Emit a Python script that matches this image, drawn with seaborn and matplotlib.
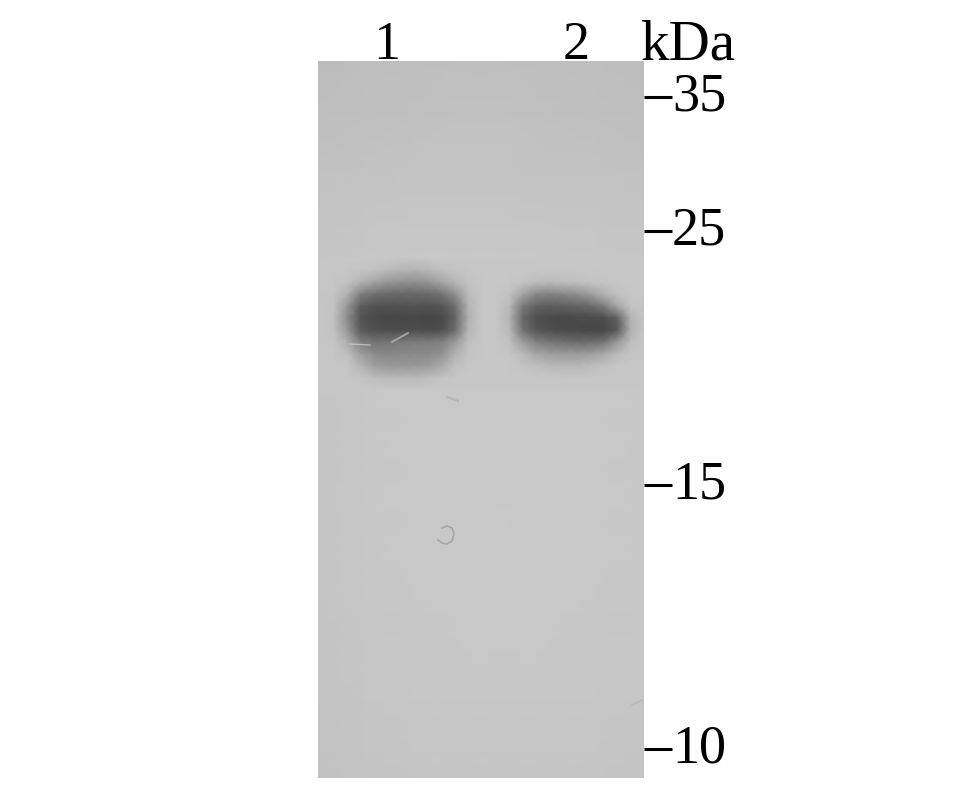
import numpy as np
import matplotlib
matplotlib.use("Agg")
import matplotlib.pyplot as plt
import seaborn as sns

# image size and blot box in pixels
W, H = 976, 791
left, right, top, bottom = 318, 644, 61, 778

lanes = ["1", "2"]
lane_px = [387, 576]
markers = ["35", "25", "15", "10"]
marker_px = [97, 231, 485, 749]

# coarse membrane background, grey levels
background = [
    [188, 190, 190, 191, 191, 190, 190, 189],
    [190, 191, 192, 193, 193, 192, 191, 190],
    [193, 194, 195, 195, 195, 194, 194, 193],
    [196, 197, 198, 198, 198, 197, 197, 196],
    [197, 199, 200, 200, 200, 200, 199, 198],
    [197, 199, 200, 200, 200, 200, 200, 198],
    [198, 199, 200, 200, 200, 200, 200, 199],
    [197, 199, 200, 200, 200, 200, 200, 199],
    [197, 199, 200, 200, 200, 200, 200, 199],
    [197, 199, 200, 200, 201, 200, 200, 199],
    [197, 199, 200, 200, 200, 200, 200, 199],
    [196, 198, 199, 200, 200, 200, 199, 198],
    [196, 198, 199, 199, 199, 199, 199, 198],
    [195, 197, 198, 198, 198, 198, 198, 197],
    [194, 196, 197, 197, 197, 197, 197, 196],
]

# fine grid round the two bands
band_box = (320, 644, 258, 390)
bands = [
    [198, 198, 199, 199, 199, 199, 198, 198, 199, 199, 199, 199, 199, 199, 199, 199, 199, 199, 199, 199, 199, 198, 198, 198, 198],
    [198, 198, 198, 196, 194, 188, 182, 180, 184, 192, 196, 198, 199, 199, 199, 199, 199, 199, 199, 199, 199, 198, 198, 198, 198],
    [198, 198, 195, 180, 165, 152, 146, 144, 150, 165, 184, 195, 199, 199, 199, 196, 190, 188, 190, 192, 196, 197, 198, 198, 198],
    [198, 197, 178, 128, 112, 106, 104, 104, 106, 116, 144, 188, 199, 199, 195, 165, 138, 132, 136, 144, 158, 178, 194, 198, 198],
    [198, 195, 152, 94, 84, 82, 82, 84, 82, 86, 110, 180, 199, 199, 186, 122, 98, 94, 96, 100, 106, 124, 168, 195, 198],
    [198, 194, 142, 84, 74, 72, 72, 72, 70, 72, 100, 178, 199, 199, 182, 106, 80, 74, 72, 74, 76, 78, 96, 178, 198],
    [198, 195, 152, 90, 80, 76, 76, 78, 76, 78, 108, 182, 199, 199, 186, 114, 86, 78, 74, 72, 70, 70, 88, 176, 198],
    [198, 197, 176, 128, 116, 118, 122, 124, 124, 128, 154, 192, 199, 199, 193, 156, 128, 118, 112, 108, 108, 116, 152, 190, 198],
    [198, 198, 192, 158, 140, 135, 136, 138, 138, 146, 178, 196, 199, 199, 198, 186, 166, 158, 155, 155, 158, 168, 186, 197, 198],
    [198, 198, 198, 182, 160, 152, 152, 152, 156, 170, 192, 198, 199, 199, 199, 196, 190, 186, 184, 184, 188, 194, 198, 198, 198],
    [198, 198, 198, 196, 190, 186, 186, 186, 190, 196, 198, 199, 199, 199, 199, 199, 199, 199, 198, 198, 198, 198, 198, 198, 198],
    [198, 198, 199, 199, 199, 199, 199, 199, 199, 199, 199, 199, 199, 199, 199, 199, 199, 199, 199, 199, 199, 199, 199, 198, 198],
]

# small marks on the membrane (pixels)
ring_x = [442, 447, 452, 454, 452, 447, 442, 438]
ring_y = [528, 526, 528, 534, 541, 544, 543, 540]
scratch_x, scratch_y = [392, 408], [342, 333]
scratch2_x, scratch2_y = [350, 370], [344, 345]
smudge_x, smudge_y = [447, 458], [397, 401]
nick_x, nick_y = [632, 642], [705, 700]


def box_axes(fig, x0, x1, y0, y1):
    return fig.add_axes([x0 / W, 1 - y1 / H, (x1 - x0) / W, (y1 - y0) / H])


plt.rcParams["font.family"] = ["Liberation Serif", "DejaVu Serif"]
fig = plt.figure(figsize=(W / 100, H / 100), dpi=100)

ax = box_axes(fig, left, right, top, bottom)
back = np.array(background)
sns.heatmap(back, ax=ax, cmap="gray", vmin=0, vmax=255, cbar=False,
            shading="gouraud", xticklabels=False, yticklabels=False)
ax.set_xlim(0, back.shape[1] - 1)
ax.set_ylim(back.shape[0] - 1, 0)

# lane numbers on top, weight markers on the right
ax.xaxis.tick_top()
ax.set_xticks([(p - left) / (right - left) * (back.shape[1] - 1) for p in lane_px])
ax.set_xticklabels(lanes, fontsize=39)
ax.tick_params(axis="x", length=0, pad=-7, colors="black")
ax.yaxis.tick_right()
ax.set_yticks([(p - top) / (bottom - top) * (back.shape[0] - 1) for p in marker_px])
ax.set_yticklabels(markers, fontsize=39, va="center")
ax.tick_params(axis="y", length=20, width=2.2, pad=0, colors="black")
for s in ax.spines.values():
    s.set_visible(False)

ax2 = box_axes(fig, *band_box)
fine = np.array(bands)
sns.heatmap(fine, ax=ax2, cmap="gray", vmin=0, vmax=255, cbar=False,
            shading="gouraud", xticklabels=False, yticklabels=False)
ax2.set_xlim(0, fine.shape[1] - 1)
ax2.set_ylim(fine.shape[0] - 1, 0)
ax2.axis("off")

# overlay in pixel coordinates for the little flaws
ax3 = box_axes(fig, left, right, top, bottom)
ax3.set_xlim(left, right)
ax3.set_ylim(bottom, top)
ax3.axis("off")
ax3.patch.set_alpha(0)
# estimator=None keeps repeated x values, otherwise seaborn averages them
sns.lineplot(x=ring_x, y=ring_y, ax=ax3, color="#a6a6a6", lw=1.2, sort=False, estimator=None)
sns.lineplot(x=scratch_x, y=scratch_y, ax=ax3, color="#b8b8b8", lw=1.3, sort=False, alpha=0.8)
sns.lineplot(x=scratch2_x, y=scratch2_y, ax=ax3, color="#d0d0d0", lw=1.0, sort=False, alpha=0.7)
sns.lineplot(x=smudge_x, y=smudge_y, ax=ax3, color="#b0b0b0", lw=1.6, sort=False, alpha=0.7)
sns.lineplot(x=nick_x, y=nick_y, ax=ax3, color="#b4b4b4", lw=1.2, sort=False, alpha=0.7)
ax3.set_xlabel("")
ax3.set_ylabel("")

fig.text(641 / W, 1 - 60 / H, "kDa", fontsize=41, color="black", ha="left", va="baseline")

fig.savefig("out.png", dpi=100)
